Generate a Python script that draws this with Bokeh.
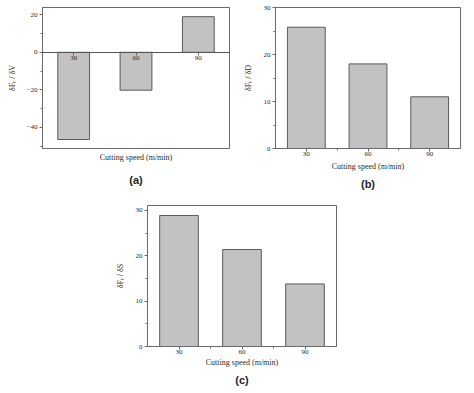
from bokeh.plotting import figure
from bokeh.models import LinearAxis, FixedTicker, Title, Range1d, Spacer, ColumnDataSource
from bokeh.layouts import row, column
from bokeh.embed import file_html
from bokeh.resources import INLINE

# ---- data ----
speeds = [30, 60, 90]
dF_dV = [-46.5, -20.2, 19.0]
dF_dD = [25.8, 18.0, 11.0]
dF_dS = [28.9, 21.4, 13.8]
speed_ticks = [30, 60, 90]
ticks_a = [-40, -20, 0, 20]
minor_a = [-50, -30, -10, 10]
ticks_bc = [0, 10, 20, 30]
minor_bc = [5, 15, 25]
xlabel = "Cutting speed (m/min)"
ylabels = ["δFₜ / δV", "δFₜ / δD", "δFₜ / δS"]
panel_tags = ["(a)", "(b)", "(c)"]

AX = "#6a6a6a"
TXT = "#2a2a2a"
FILL = "#c2c2c2"
EDGE = "#5a5a5a"
SERIF = "Liberation Serif"


def style_axis(ax, tick_len=3, label_standoff=1):
    ax.axis_line_color = AX
    ax.major_tick_line_color = AX
    ax.minor_tick_line_color = AX
    ax.major_tick_out = tick_len
    ax.major_tick_in = 0
    ax.minor_tick_out = 2
    ax.minor_tick_in = 0
    ax.major_label_text_font = SERIF
    ax.major_label_text_font_size = "7px"
    ax.major_label_text_color = TXT
    ax.major_label_standoff = label_standoff
    ax.axis_label_text_font = SERIF
    ax.axis_label_text_font_size = "8px"
    ax.axis_label_text_font_style = "normal"
    ax.axis_label_text_color = TXT


def make_fig(w, h, xr, yr, ml, mr, mt, mb):
    p = figure(width=w, height=h, x_range=Range1d(*xr), y_range=Range1d(*yr),
               x_axis_location=None, y_axis_location=None,
               output_backend="svg", toolbar_location=None,
               min_border_left=ml, min_border_right=mr,
               min_border_top=mt, min_border_bottom=mb)
    p.grid.visible = False
    p.outline_line_color = AX
    p.outline_line_width = 1
    p.background_fill_color = "white"
    p.border_fill_color = "white"
    return p


def add_tag(p, text, standoff):
    t = Title(text=text, align="center", text_font="Liberation Sans",
              text_font_size="11px", text_font_style="bold",
              text_color="#222222", standoff=standoff)
    p.add_layout(t, "below")


def add_yaxis(p, ticks, minor, label, standoff):
    ya = LinearAxis(ticker=FixedTicker(ticks=ticks, minor_ticks=minor), axis_label=label)
    style_axis(ya, 3, 2)
    ya.axis_label_standoff = standoff
    p.add_layout(ya, "left")


# ---- panel (a) ----
pa = make_fig(237, 204, (15, 105), (-51.3, 23.9), 42, 8, 1, 56)
srcA = ColumnDataSource(dict(x=speeds, top=dF_dV))
pa.vbar(x="x", top="top", bottom=0, width=15.3, source=srcA,
        fill_color=FILL, line_color=EDGE, line_width=1)
add_yaxis(pa, ticks_a, minor_a, ylabels[0], 7)
xb = LinearAxis(ticker=FixedTicker(ticks=[], minor_ticks=[]), axis_label=xlabel)
style_axis(xb, 0, 0)
xb.axis_line_color = None
xb.axis_label_standoff = 4
pa.add_layout(xb, "below")
add_tag(pa, panel_tags[0], 15)
xa = LinearAxis(fixed_location=0, ticker=FixedTicker(ticks=speed_ticks, minor_ticks=[]))
style_axis(xa, 3, 1)
xa.axis_line_color = "#555555"
pa.add_layout(xa, "below")


def simple_panel(w, h, yr, vals, bw, ml, mr, mt, mb, ylabel, ystand,
                 xstand, tag, tag_stand):
    p = make_fig(w, h, (15, 105), yr, ml, mr, mt, mb)
    src = ColumnDataSource(dict(x=speeds, top=vals))
    p.vbar(x="x", top="top", bottom=0, width=bw, source=src,
           fill_color=FILL, line_color=EDGE, line_width=1)
    add_yaxis(p, ticks_bc, minor_bc, ylabel, ystand)
    xax = LinearAxis(ticker=FixedTicker(ticks=speed_ticks, minor_ticks=[45, 75]),
                     axis_label=xlabel)
    style_axis(xax, 3, 0)
    xax.axis_label_standoff = xstand
    p.add_layout(xax, "below")
    add_tag(p, tag, tag_stand)
    return p


pb = simple_panel(229, 204, (0, 30), dF_dD, 18.4, 38, 6, 7, 55,
                  ylabels[1], 8, 3, panel_tags[1], 4)
pc = simple_panel(232, 184, (0, 31.1), dF_dS, 18.4, 37, 6, 1, 42,
                  ylabels[2], 8, 1, panel_tags[2], 5)

layout = column(row(pa, pb), row(Spacer(width=110, height=184), pc))

with open("out.html", "w") as f:
    f.write(file_html(layout, INLINE))
